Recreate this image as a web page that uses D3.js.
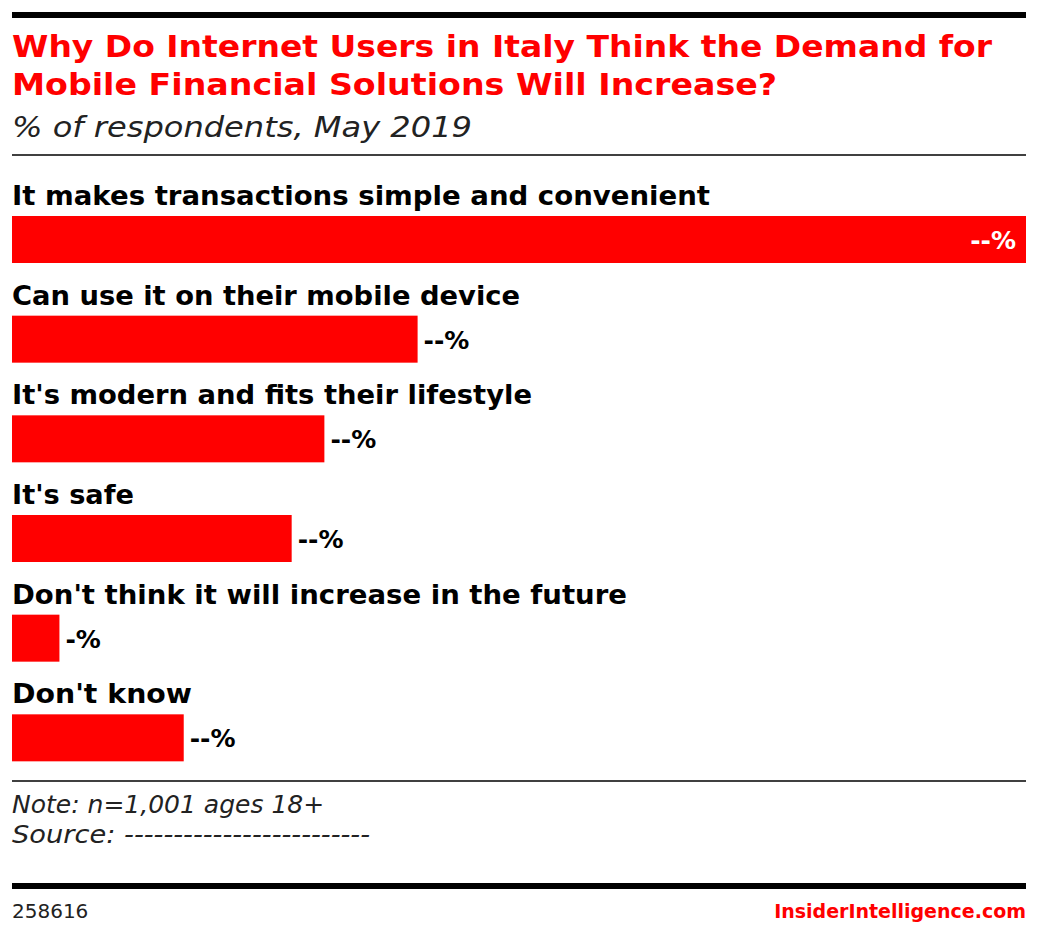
<!DOCTYPE html>
<html lang='en'>
<head>
<meta charset='UTF-8'>
<title>Mobile financial solutions Italy</title>
<script src='https://cdnjs.cloudflare.com/ajax/libs/d3/7.8.5/d3.min.js'></script>
<style>
  body { margin: 0; background: #fff; }
  text { font-family: 'DejaVu Sans', sans-serif; }
</style>
</head>
<body>
<div id='chart'></div>
<script>
    const categories = [
        'It makes transactions simple and convenient',
        'Can use it on their mobile device',
        "It's modern and fits their lifestyle",
        "It's safe",
        "Don't think it will increase in the future",
        "Don't know"
    ];
    const values = [62, 24.8, 19.1, 17.1, 2.9, 10.5];
    const valueLabels = ['--%', '--%', '--%', '--%', '-%', '--%'];

    const W = 1038, H = 936, left = 12, right = 1026;
    const red = '#ff0000';

    const svg = d3.select('#chart').append('svg')
        .attr('width', W).attr('height', H);

    svg.append('rect').attr('x', left).attr('y', 12).attr('width', right - left).attr('height', 6).attr('fill', '#000');

    svg.append('text').attr('x', left).attr('y', 57).attr('fill', red)
        .attr('font-size', 31).attr('font-weight', 'bold')
        .attr('textLength', 980).attr('lengthAdjust', 'spacingAndGlyphs')
        .text('Why Do Internet Users in Italy Think the Demand for');
    svg.append('text').attr('x', left).attr('y', 95).attr('fill', red)
        .attr('font-size', 31).attr('font-weight', 'bold')
        .attr('textLength', 765).attr('lengthAdjust', 'spacingAndGlyphs')
        .text('Mobile Financial Solutions Will Increase?');
    svg.append('text').attr('x', left).attr('y', 137).attr('fill', '#222')
        .attr('font-size', 29).attr('font-style', 'italic')
        .attr('textLength', 460).attr('lengthAdjust', 'spacingAndGlyphs')
        .text('% of respondents, May 2019');
    svg.append('line').attr('x1', left).attr('x2', right).attr('y1', 155).attr('y2', 155)
        .attr('stroke', '#000').attr('stroke-width', 1.5);

    const x = d3.scaleLinear().domain([0, d3.max(values)]).range([left, right]);
    const band = d3.scaleBand().domain(categories).range([168, 766]);

    const g = svg.append('g').selectAll('g').data(categories).join('g')
        .attr('transform', d => `translate(0,${band(d)})`);

    const labelWidths = [698, 508, 520, 122, 615, 180];
    g.append('text').attr('x', left).attr('y', 37)
        .attr('font-size', 27).attr('font-weight', 'bold').attr('fill', '#000')
        .attr('textLength', (d, i) => labelWidths[i]).attr('lengthAdjust', 'spacingAndGlyphs')
        .text(d => d);

    g.append('rect').attr('x', left).attr('y', 48)
        .attr('width', (d, i) => x(values[i]) - left).attr('height', 47)
        .attr('fill', red);

    g.append('text')
        .attr('x', (d, i) => i === 0 ? x(values[i]) - 10 : x(values[i]) + 6)
        .attr('y', 81)
        .attr('text-anchor', (d, i) => i === 0 ? 'end' : 'start')
        .attr('font-size', 25).attr('font-weight', 'bold')
        .attr('fill', (d, i) => i === 0 ? '#fff' : '#000')
        .text((d, i) => valueLabels[i]);

    svg.append('line').attr('x1', left).attr('x2', right).attr('y1', 781).attr('y2', 781)
        .attr('stroke', '#000').attr('stroke-width', 1.5);
    svg.append('text').attr('x', left).attr('y', 813).attr('font-size', 25).attr('font-style', 'italic')
        .attr('fill', '#222').text('Note: n=1,001 ages 18+');
    svg.append('text').attr('x', left).attr('y', 843).attr('font-size', 25).attr('font-style', 'italic')
        .attr('fill', '#222').attr('textLength', 358).attr('lengthAdjust', 'spacingAndGlyphs')
        .text('Source: -------------------------');

    svg.append('rect').attr('x', left).attr('y', 883).attr('width', right - left).attr('height', 6).attr('fill', '#000');
    svg.append('text').attr('x', left).attr('y', 918).attr('font-size', 20).attr('fill', '#222').text('258616');
    svg.append('text').attr('x', right).attr('y', 918).attr('font-size', 19).attr('font-weight', 'bold')
        .attr('text-anchor', 'end').attr('fill', red).text('InsiderIntelligence.com');
</script>
</body>
</html>
